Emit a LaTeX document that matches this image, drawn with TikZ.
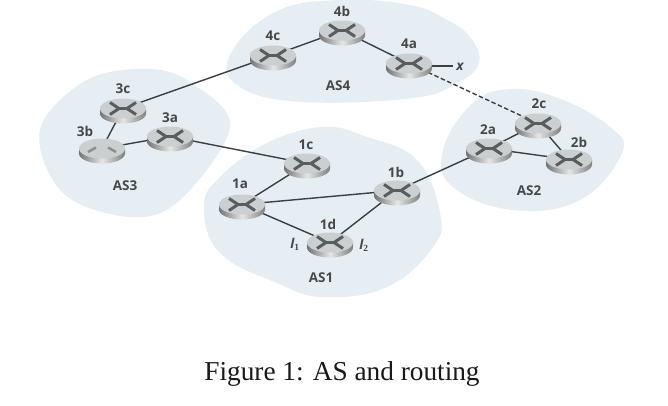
\documentclass[tikz,border=0pt]{standalone}
\usepackage{fontspec}
\setmainfont{Liberation Serif}
\newfontfamily\labfont{Open Sans}
\usetikzlibrary{shapes.geometric}
\pgfdeclarelayer{blobs}
\pgfdeclarelayer{links}
\pgfsetlayers{blobs,links,main}
\definecolor{blobc}{HTML}{E6EEF3}
\definecolor{linkc}{HTML}{3C3F40}
\definecolor{xc}{HTML}{5A5D5E}
\definecolor{routerg}{HTML}{CBCFD0}
\tikzset{
  blob/.style={fill=blobc,draw=none},
  link/.style={draw=linkc,line width=1.4pt},
  dashlink/.style={link,dashed,dash pattern=on 4.5pt off 2.5pt},
  routertop/.style={ellipse,inner sep=0pt,minimum width=46pt,minimum height=20pt,fill=routerg,draw=none},
  lab/.style={font=\labfont\fontsize{13.5}{15}\selectfont\bfseries,text=black!72,inner sep=0pt},
  lane/.style={font=\labfont\fontsize{13.5}{15}\selectfont\itshape\bfseries,text=black!72,inner sep=0pt},
  captiontext/.style={font=\fontsize{27.3}{30}\selectfont,text=black!90,inner sep=0pt},
  cross/.style={draw=xc,line width=3pt}
}
\newcommand{\routerbody}[2]{%
  \begin{scope}[shift={(#1,#2)}]
    \shade[left color=black!55,right color=black!50,middle color=black!10]
      (-23,-2.5) -- (-23,2.5) arc[start angle=180,end angle=360,x radius=23pt,y radius=10pt] -- (23,-2.5) -- cycle;
  \end{scope}}
\newcommand{\routercross}[2]{%
  \begin{scope}[shift={(#1,#2)}]
    \draw[cross] (-13,-8.5) -- (-4,-2.5) (13,-8.5) -- (4,-2.5) (-13,3.5) -- (-4,-2.5) (13,3.5) -- (4,-2.5);
    \draw[cross,line width=2.4pt] (-4,-2.5) -- (4,-2.5);
  \end{scope}}
\newcommand{\router}[3]{%
  \routerbody{#2}{#3}
  \node[routertop] (#1) at (#2,#3-2.5) {};
  \routercross{#2}{#3}}
\begin{document}
\begin{tikzpicture}[x=1pt,y=-1pt]
\useasboundingbox (0,0) rectangle (668,405);
\begin{pgfonlayer}{blobs}
\fill[white] (0,0) rectangle (668,405);
\draw[blob] plot[smooth cycle,tension=0.6] coordinates {(150,69) (193,84) (230,127) (180,200) (130,217) (63,193) (40,130) (87,80)};
\draw[blob] plot[smooth cycle,tension=0.7] coordinates {(230,55) (240,87) (303,102) (413,98) (457,83) (479,63) (470,37) (447,20) (410,5) (340,0) (275,12)};
\draw[blob] plot[smooth cycle,tension=0.7] coordinates {(323,127) (367,137) (417,160) (440,213) (433,247) (387,287) (323,297) (277,283) (220,253) (204,207) (220,177) (267,143)};
\draw[blob] plot[smooth cycle,tension=0.7] coordinates {(513,89) (563,100) (610,127) (622,153) (580,200) (513,210) (453,187) (443,150) (473,103)};
\end{pgfonlayer}

\router{r3c}{123}{111}
\routerbody{102}{151}
\node[routertop] (r3b) at (102,148.5) {};
\draw[cross,draw=xc!70,line width=2.4pt] (88,152) -- (96,147.5) (116,152) -- (108,147.5);
\router{r3a}{170}{139}
\router{r4c}{273}{58}
\router{r4b}{342}{33}
\router{r4a}{409}{66}
\router{r1c}{307}{166}
\router{r1a}{242}{207}
\router{r1b}{397}{193}
\router{r1d}{330}{245}
\router{r2c}{538}{126}
\router{r2a}{489}{151}
\router{r2b}{569}{162}

\node[lab] (l3c) at (123,89) {3c};
\node[lab] (l3b) at (85,131) {3b};
\node[lab] (l3a) at (170,118) {3a};
\node[lab] (l4c) at (273,36) {4c};
\node[lab] (l4b) at (342,11) {4b};
\node[lab] (l4a) at (409,44) {4a};
\node[lab] (l1c) at (306,145) {1c};
\node[lab] (l1a) at (240,184) {1a};
\node[lab] (l1b) at (396,172) {1b};
\node[lab] (l1d) at (328,224) {1d};
\node[lab] (l2c) at (539,104) {2c};
\node[lab] (l2a) at (488,130) {2a};
\node[lab] (l2b) at (579,142) {2b};
\node[lab] (as3) at (125,186) {AS3};
\node[lab] (as4) at (338,86) {AS4};
\node[lab] (as1) at (321,278) {AS1};
\node[lab] (as2) at (529,191) {AS2};
\node[lane] (i1) at (295,244) {l$_{\mathbf{1}}$};
\node[lane] (i2) at (364,245) {l$_{\mathbf{2}}$};
\node[lane] (xlab) at (460,67) {x};
\node[captiontext] (caption) at (342,374) {Figure 1: AS and routing};
\coordinate (xport) at (453,66);
\coordinate (r4aport) at (409,66);

\begin{pgfonlayer}{links}
\draw[link] (r3c.center) -- (r4c.center);
\draw[link] (r3c.center) -- (r3b.center);
\draw[link] (r3b.center) -- (r3a.center);
\draw[link] (r3a.center) -- (r1c.center);
\draw[link] (r1c.center) -- (r1a.center);
\draw[link] (r1a.center) -- (r1b.center);
\draw[link] (r1a.center) -- (r1d.center);
\draw[link] (r1d.center) -- (r1b.center);
\draw[link] (r1b.center) -- (r2a.center);
\draw[link] (r2a.center) -- (r2c.center);
\draw[link] (r2a.center) -- (r2b.center);
\draw[link] (r2c.center) -- (r2b.center);
\draw[link] (r4c.center) -- (r4b.center);
\draw[link] (r4b.center) -- (r4a.center);
\draw[link] (r4aport) -- (xport);
\draw[dashlink] (r4a.center) -- (r2c.center);
\end{pgfonlayer}
\end{tikzpicture}
\end{document}
